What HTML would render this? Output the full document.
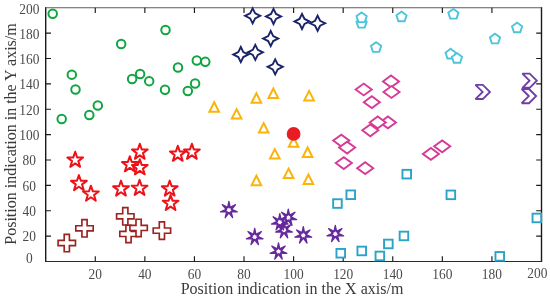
<!DOCTYPE html><html><head><meta charset="utf-8"><title>Position scatter</title>
<style>html,body{margin:0;padding:0;background:#fff}svg{display:block}text{font-family:"Liberation Serif","DejaVu Serif",serif}</style></head><body>
<svg width="550" height="299" viewBox="0 0 550 299">
<rect width="550" height="299" fill="#fff"/>
<g stroke="#1a1a1a" stroke-width="1.4" fill="none">
<path d="M45.7 7.10V262.05M541.5 7.10V262.05"/>
<path d="M45.10 261.5H542.10" stroke-width="1.1" stroke="#2c2c2c"/>
<path d="M45.10 7.75H542.10" stroke-width="1.2" stroke="#5c5c5c"/>
<path d="M95.28 261.5v-5.3M95.28 7.7v5.3M45.7 236.12h5.3M541.5 236.12h-5.3M144.86 261.5v-5.3M144.86 7.7v5.3M45.7 210.74h5.3M541.5 210.74h-5.3M194.44 261.5v-5.3M194.44 7.7v5.3M45.7 185.36h5.3M541.5 185.36h-5.3M244.02 261.5v-5.3M244.02 7.7v5.3M45.7 159.98h5.3M541.5 159.98h-5.3M293.60 261.5v-5.3M293.60 7.7v5.3M45.7 134.60h5.3M541.5 134.60h-5.3M343.18 261.5v-5.3M343.18 7.7v5.3M45.7 109.22h5.3M541.5 109.22h-5.3M392.76 261.5v-5.3M392.76 7.7v5.3M45.7 83.84h5.3M541.5 83.84h-5.3M442.34 261.5v-5.3M442.34 7.7v5.3M45.7 58.46h5.3M541.5 58.46h-5.3M491.92 261.5v-5.3M491.92 7.7v5.3M45.7 33.08h5.3M541.5 33.08h-5.3" stroke-width="1.15"/>
</g>
<g fill="#fff" stroke="#10a540" stroke-width="2.0">
<circle cx="52.7" cy="13.80" r="4.25"/>
<circle cx="121.2" cy="44.05" r="4.25"/>
<circle cx="165.5" cy="29.95" r="4.25"/>
<circle cx="71.8" cy="74.65" r="4.25"/>
<circle cx="75.5" cy="89.45" r="4.25"/>
<circle cx="61.7" cy="119.05" r="4.25"/>
<circle cx="89.3" cy="115.05" r="4.25"/>
<circle cx="97.8" cy="105.55" r="4.25"/>
<circle cx="132.1" cy="78.95" r="4.25"/>
<circle cx="140.1" cy="74.05" r="4.25"/>
<circle cx="149.2" cy="81.15" r="4.25"/>
<circle cx="165.0" cy="89.75" r="4.25"/>
<circle cx="178.0" cy="67.45" r="4.25"/>
<circle cx="187.8" cy="90.95" r="4.25"/>
<circle cx="195.1" cy="83.45" r="4.25"/>
<circle cx="196.8" cy="60.45" r="4.25"/>
<circle cx="205.3" cy="61.85" r="4.25"/>
</g>
<g fill="#fff" stroke="#1b2468" stroke-width="1.9" stroke-linejoin="miter" stroke-miterlimit="10">
<path d="M252.65 8.30 L255.15 13.35 L260.20 15.85 L255.15 18.35 L252.65 23.40 L250.15 18.35 L245.10 15.85 L250.15 13.35Z"/>
<path d="M273.50 8.90 L276.00 13.95 L281.05 16.45 L276.00 18.95 L273.50 24.00 L271.00 18.95 L265.95 16.45 L271.00 13.95Z"/>
<path d="M302.00 13.90 L304.50 18.95 L309.55 21.45 L304.50 23.95 L302.00 29.00 L299.50 23.95 L294.45 21.45 L299.50 18.95Z"/>
<path d="M317.60 15.70 L320.10 20.75 L325.15 23.25 L320.10 25.75 L317.60 30.80 L315.10 25.75 L310.05 23.25 L315.10 20.75Z"/>
<path d="M270.70 31.00 L273.20 36.05 L278.25 38.55 L273.20 41.05 L270.70 46.10 L268.20 41.05 L263.15 38.55 L268.20 36.05Z"/>
<path d="M255.30 44.80 L257.80 49.85 L262.85 52.35 L257.80 54.85 L255.30 59.90 L252.80 54.85 L247.75 52.35 L252.80 49.85Z"/>
<path d="M240.80 47.00 L243.30 52.05 L248.35 54.55 L243.30 57.05 L240.80 62.10 L238.30 57.05 L233.25 54.55 L238.30 52.05Z"/>
<path d="M275.20 59.30 L277.70 64.35 L282.75 66.85 L277.70 69.35 L275.20 74.40 L272.70 69.35 L267.65 66.85 L272.70 64.35Z"/>
</g>
<g fill="#fff" stroke="#fab40a" stroke-width="2.0" stroke-linejoin="miter">
<path d="M214.20 102.20 L219.00 111.70 L209.40 111.70Z"/>
<path d="M236.60 109.10 L241.40 118.60 L231.80 118.60Z"/>
<path d="M256.40 93.30 L261.20 102.80 L251.60 102.80Z"/>
<path d="M273.30 88.50 L278.10 98.00 L268.50 98.00Z"/>
<path d="M309.10 90.90 L313.90 100.40 L304.30 100.40Z"/>
<path d="M263.70 123.10 L268.50 132.60 L258.90 132.60Z"/>
<path d="M293.60 137.20 L298.40 146.70 L288.80 146.70Z"/>
<path d="M274.80 149.10 L279.60 158.60 L270.00 158.60Z"/>
<path d="M307.60 147.50 L312.40 157.00 L302.80 157.00Z"/>
<path d="M288.60 168.60 L293.40 178.10 L283.80 178.10Z"/>
<path d="M308.40 174.50 L313.20 184.00 L303.60 184.00Z"/>
<path d="M256.40 175.70 L261.20 185.20 L251.60 185.20Z"/>
</g>
<circle cx="293.6" cy="133.9" r="6.9" fill="#e91c24"/>
<g fill="#fff" stroke="#ec1218" stroke-width="2.0" stroke-linejoin="round">
<path d="M75.20 151.80 L77.14 157.43 L83.09 157.54 L78.34 161.12 L80.08 166.81 L75.20 163.40 L70.32 166.81 L72.06 161.12 L67.31 157.54 L73.26 157.43Z"/>
<path d="M139.80 143.80 L141.74 149.43 L147.69 149.54 L142.94 153.12 L144.68 158.81 L139.80 155.40 L134.92 158.81 L136.66 153.12 L131.91 149.54 L137.86 149.43Z"/>
<path d="M129.80 156.30 L131.74 161.93 L137.69 162.04 L132.94 165.62 L134.68 171.31 L129.80 167.90 L124.92 171.31 L126.66 165.62 L121.91 162.04 L127.86 161.93Z"/>
<path d="M139.80 159.30 L141.74 164.93 L147.69 165.04 L142.94 168.62 L144.68 174.31 L139.80 170.90 L134.92 174.31 L136.66 168.62 L131.91 165.04 L137.86 164.93Z"/>
<path d="M177.80 145.80 L179.74 151.43 L185.69 151.54 L180.94 155.12 L182.68 160.81 L177.80 157.40 L172.92 160.81 L174.66 155.12 L169.91 151.54 L175.86 151.43Z"/>
<path d="M191.90 143.80 L193.84 149.43 L199.79 149.54 L195.04 153.12 L196.78 158.81 L191.90 155.40 L187.02 158.81 L188.76 153.12 L184.01 149.54 L189.96 149.43Z"/>
<path d="M78.90 175.10 L80.84 180.73 L86.79 180.84 L82.04 184.42 L83.78 190.11 L78.90 186.70 L74.02 190.11 L75.76 184.42 L71.01 180.84 L76.96 180.73Z"/>
<path d="M90.90 185.70 L92.84 191.33 L98.79 191.44 L94.04 195.02 L95.78 200.71 L90.90 197.30 L86.02 200.71 L87.76 195.02 L83.01 191.44 L88.96 191.33Z"/>
<path d="M121.00 180.60 L122.94 186.23 L128.89 186.34 L124.14 189.92 L125.88 195.61 L121.00 192.20 L116.12 195.61 L117.86 189.92 L113.11 186.34 L119.06 186.23Z"/>
<path d="M139.60 179.90 L141.54 185.53 L147.49 185.64 L142.74 189.22 L144.48 194.91 L139.60 191.50 L134.72 194.91 L136.46 189.22 L131.71 185.64 L137.66 185.53Z"/>
<path d="M169.70 180.60 L171.64 186.23 L177.59 186.34 L172.84 189.92 L174.58 195.61 L169.70 192.20 L164.82 195.61 L166.56 189.92 L161.81 186.34 L167.76 186.23Z"/>
<path d="M170.60 195.00 L172.54 200.63 L178.49 200.74 L173.74 204.32 L175.48 210.01 L170.60 206.60 L165.72 210.01 L167.46 204.32 L162.71 200.74 L168.66 200.63Z"/>
</g>
<g fill="#fff" stroke="#9c2222" stroke-width="1.65" stroke-linejoin="miter">
<path d="M64.20 234.30 L69.40 234.30 L69.40 240.40 L75.50 240.40 L75.50 245.60 L69.40 245.60 L69.40 251.70 L64.20 251.70 L64.20 245.60 L58.10 245.60 L58.10 240.40 L64.20 240.40Z"/>
<path d="M81.90 219.60 L87.10 219.60 L87.10 225.70 L93.20 225.70 L93.20 230.90 L87.10 230.90 L87.10 237.00 L81.90 237.00 L81.90 230.90 L75.80 230.90 L75.80 225.70 L81.90 225.70Z"/>
<path d="M122.70 207.60 L127.90 207.60 L127.90 213.70 L134.00 213.70 L134.00 218.90 L127.90 218.90 L127.90 225.00 L122.70 225.00 L122.70 218.90 L116.60 218.90 L116.60 213.70 L122.70 213.70Z"/>
<path d="M125.90 225.20 L131.10 225.20 L131.10 231.30 L137.20 231.30 L137.20 236.50 L131.10 236.50 L131.10 242.60 L125.90 242.60 L125.90 236.50 L119.80 236.50 L119.80 231.30 L125.90 231.30Z"/>
<path d="M136.00 219.20 L141.20 219.20 L141.20 225.30 L147.30 225.30 L147.30 230.50 L141.20 230.50 L141.20 236.60 L136.00 236.60 L136.00 230.50 L129.90 230.50 L129.90 225.30 L136.00 225.30Z"/>
<path d="M159.30 221.90 L164.50 221.90 L164.50 228.00 L170.60 228.00 L170.60 233.20 L164.50 233.20 L164.50 239.30 L159.30 239.30 L159.30 233.20 L153.20 233.20 L153.20 228.00 L159.30 228.00Z"/>
</g>
<g fill="#65299d" fill-rule="evenodd" stroke="#65299d" stroke-width="1.3" stroke-linejoin="round">
<path d="M228.90 201.45 L230.16 207.39 L235.58 204.67 L231.73 209.35 L237.24 211.90 L231.17 211.81 L232.61 217.70 L228.90 212.90 L225.19 217.70 L226.63 211.81 L220.56 211.90 L226.07 209.35 L222.22 204.67 L227.64 207.39ZM228.90 206.10 L229.94 207.84 L231.95 207.57 L231.24 209.47 L232.70 210.87 L230.78 211.50 L230.59 213.51 L228.90 212.40 L227.21 213.51 L227.02 211.50 L225.10 210.87 L226.56 209.47 L225.85 207.57 L227.86 207.84Z"/>
<path d="M254.70 228.35 L255.96 234.29 L261.38 231.57 L257.53 236.25 L263.04 238.80 L256.97 238.71 L258.41 244.60 L254.70 239.80 L250.99 244.60 L252.43 238.71 L246.36 238.80 L251.87 236.25 L248.02 231.57 L253.44 234.29ZM254.70 233.00 L255.74 234.74 L257.75 234.47 L257.04 236.37 L258.50 237.77 L256.58 238.40 L256.39 240.41 L254.70 239.30 L253.01 240.41 L252.82 238.40 L250.90 237.77 L252.36 236.37 L251.65 234.47 L253.66 234.74Z"/>
<path d="M279.80 213.55 L281.06 219.49 L286.48 216.77 L282.63 221.45 L288.14 224.00 L282.07 223.91 L283.51 229.80 L279.80 225.00 L276.09 229.80 L277.53 223.91 L271.46 224.00 L276.97 221.45 L273.12 216.77 L278.54 219.49ZM279.80 218.20 L280.84 219.94 L282.85 219.67 L282.14 221.57 L283.60 222.97 L281.68 223.60 L281.49 225.61 L279.80 224.50 L278.11 225.61 L277.92 223.60 L276.00 222.97 L277.46 221.57 L276.75 219.67 L278.76 219.94Z"/>
<path d="M288.30 209.05 L289.56 214.99 L294.98 212.27 L291.13 216.95 L296.64 219.50 L290.57 219.41 L292.01 225.30 L288.30 220.50 L284.59 225.30 L286.03 219.41 L279.96 219.50 L285.47 216.95 L281.62 212.27 L287.04 214.99ZM288.30 213.70 L289.34 215.44 L291.35 215.17 L290.64 217.07 L292.10 218.47 L290.18 219.10 L289.99 221.11 L288.30 220.00 L286.61 221.11 L286.42 219.10 L284.50 218.47 L285.96 217.07 L285.25 215.17 L287.26 215.44Z"/>
<path d="M284.00 221.55 L285.26 227.49 L290.68 224.77 L286.83 229.45 L292.34 232.00 L286.27 231.91 L287.71 237.80 L284.00 233.00 L280.29 237.80 L281.73 231.91 L275.66 232.00 L281.17 229.45 L277.32 224.77 L282.74 227.49ZM284.00 226.20 L285.04 227.94 L287.05 227.67 L286.34 229.57 L287.80 230.97 L285.88 231.60 L285.69 233.61 L284.00 232.50 L282.31 233.61 L282.12 231.60 L280.20 230.97 L281.66 229.57 L280.95 227.67 L282.96 227.94Z"/>
<path d="M303.30 226.75 L304.56 232.69 L309.98 229.97 L306.13 234.65 L311.64 237.20 L305.57 237.11 L307.01 243.00 L303.30 238.20 L299.59 243.00 L301.03 237.11 L294.96 237.20 L300.47 234.65 L296.62 229.97 L302.04 232.69ZM303.30 231.40 L304.34 233.14 L306.35 232.87 L305.64 234.77 L307.10 236.17 L305.18 236.80 L304.99 238.81 L303.30 237.70 L301.61 238.81 L301.42 236.80 L299.50 236.17 L300.96 234.77 L300.25 232.87 L302.26 233.14Z"/>
<path d="M278.50 242.85 L279.76 248.79 L285.18 246.07 L281.33 250.75 L286.84 253.30 L280.77 253.21 L282.21 259.10 L278.50 254.30 L274.79 259.10 L276.23 253.21 L270.16 253.30 L275.67 250.75 L271.82 246.07 L277.24 248.79ZM278.50 247.50 L279.54 249.24 L281.55 248.97 L280.84 250.87 L282.30 252.27 L280.38 252.90 L280.19 254.91 L278.50 253.80 L276.81 254.91 L276.62 252.90 L274.70 252.27 L276.16 250.87 L275.45 248.97 L277.46 249.24Z"/>
<path d="M335.30 225.35 L336.56 231.29 L341.98 228.57 L338.13 233.25 L343.64 235.80 L337.57 235.71 L339.01 241.60 L335.30 236.80 L331.59 241.60 L333.03 235.71 L326.96 235.80 L332.47 233.25 L328.62 228.57 L334.04 231.29ZM335.30 230.00 L336.34 231.74 L338.35 231.47 L337.64 233.37 L339.10 234.77 L337.18 235.40 L336.99 237.41 L335.30 236.30 L333.61 237.41 L333.42 235.40 L331.50 234.77 L332.96 233.37 L332.25 231.47 L334.26 231.74Z"/>
</g>
<g fill="#fff" stroke="#2ba3c9" stroke-width="1.9">
<rect x="333.15" y="199.25" width="8.6" height="8.6"/>
<rect x="346.45" y="190.45" width="8.6" height="8.6"/>
<rect x="446.55" y="190.55" width="8.6" height="8.6"/>
<rect x="336.45" y="248.95" width="8.6" height="8.6"/>
<rect x="357.45" y="246.65" width="8.6" height="8.6"/>
<rect x="375.55" y="251.65" width="8.6" height="8.6"/>
<rect x="384.05" y="239.65" width="8.6" height="8.6"/>
<rect x="399.65" y="231.65" width="8.6" height="8.6"/>
<rect x="402.45" y="169.85" width="8.6" height="8.6"/>
<rect x="532.55" y="213.65" width="8.6" height="8.6"/>
<rect x="495.45" y="252.05" width="8.6" height="8.6"/>
</g>
<g fill="#fff" stroke="#d63a95" stroke-width="1.9" stroke-linejoin="miter">
<path d="M333.25 140.60 L341.30 134.70 L349.35 140.60 L341.30 146.50Z"/>
<path d="M339.05 147.60 L347.10 141.70 L355.15 147.60 L347.10 153.50Z"/>
<path d="M335.75 163.10 L343.80 157.20 L351.85 163.10 L343.80 169.00Z"/>
<path d="M357.15 168.20 L365.20 162.30 L373.25 168.20 L365.20 174.10Z"/>
<path d="M362.25 130.30 L370.30 124.40 L378.35 130.30 L370.30 136.20Z"/>
<path d="M422.85 153.90 L430.90 148.00 L438.95 153.90 L430.90 159.80Z"/>
<path d="M434.15 146.30 L442.20 140.40 L450.25 146.30 L442.20 152.20Z"/>
<path d="M355.65 89.50 L363.70 83.60 L371.75 89.50 L363.70 95.40Z"/>
<path d="M382.95 81.40 L391.00 75.50 L399.05 81.40 L391.00 87.30Z"/>
<path d="M383.45 92.00 L391.50 86.10 L399.55 92.00 L391.50 97.90Z"/>
<path d="M363.75 102.20 L371.80 96.30 L379.85 102.20 L371.80 108.10Z"/>
<path d="M379.85 122.40 L387.90 116.50 L395.95 122.40 L387.90 128.30Z"/>
<path d="M369.65 122.40 L377.70 116.50 L385.75 122.40 L377.70 128.30Z"/>
</g>
<g fill="#fff" stroke="#4cc4dc" stroke-width="1.9" stroke-linejoin="miter">
<path d="M361.60 17.90 L364.14 19.75 L366.69 21.60 L365.72 24.59 L364.74 27.58 L361.60 27.58 L358.46 27.58 L357.48 24.59 L356.51 21.60 L359.06 19.75Z"/>
<path d="M361.60 12.40 L364.14 14.25 L366.69 16.10 L365.72 19.09 L364.74 22.08 L361.60 22.08 L358.46 22.08 L357.48 19.09 L356.51 16.10 L359.06 14.25Z"/>
<path d="M401.50 11.60 L404.04 13.45 L406.59 15.30 L405.62 18.29 L404.64 21.28 L401.50 21.28 L398.36 21.28 L397.38 18.29 L396.41 15.30 L398.96 13.45Z"/>
<path d="M453.40 8.90 L455.94 10.75 L458.49 12.60 L457.52 15.59 L456.54 18.58 L453.40 18.58 L450.26 18.58 L449.28 15.59 L448.31 12.60 L450.86 10.75Z"/>
<path d="M376.10 42.20 L378.64 44.05 L381.19 45.90 L380.22 48.89 L379.24 51.88 L376.10 51.88 L372.96 51.88 L371.98 48.89 L371.01 45.90 L373.56 44.05Z"/>
<path d="M450.60 48.80 L453.14 50.65 L455.69 52.50 L454.72 55.49 L453.74 58.48 L450.60 58.48 L447.46 58.48 L446.48 55.49 L445.51 52.50 L448.06 50.65Z"/>
<path d="M457.00 53.10 L459.54 54.95 L462.09 56.80 L461.12 59.79 L460.14 62.78 L457.00 62.78 L453.86 62.78 L452.88 59.79 L451.91 56.80 L454.46 54.95Z"/>
<path d="M517.10 22.60 L519.64 24.45 L522.19 26.30 L521.22 29.29 L520.24 32.28 L517.10 32.28 L513.96 32.28 L512.98 29.29 L512.01 26.30 L514.56 24.45Z"/>
<path d="M495.00 33.70 L497.54 35.55 L500.09 37.40 L499.12 40.39 L498.14 43.38 L495.00 43.38 L491.86 43.38 L490.88 40.39 L489.91 37.40 L492.46 35.55Z"/>
</g>
<g fill="#fff" stroke="#6e3fa6" stroke-width="1.9" stroke-linejoin="miter" stroke-miterlimit="2">
<path d="M475.50 84.85 L482.80 84.85 L489.90 91.95 L482.80 99.05 L475.50 99.05 L482.60 91.95Z"/>
<path d="M522.40 73.60 L529.70 73.60 L536.80 80.70 L529.70 87.80 L522.40 87.80 L529.50 80.70Z"/>
<path d="M521.70 89.00 L529.00 89.00 L536.10 96.10 L529.00 103.20 L521.70 103.20 L528.80 96.10Z"/>
</g>
<g font-size="15.5" fill="#4a4a4a" text-anchor="middle">
<text transform="translate(29.3 263.20) scale(0.865 1)">0</text>
<text transform="translate(29.3 241.42) scale(0.865 1)">20</text>
<text transform="translate(29.3 216.04) scale(0.865 1)">40</text>
<text transform="translate(29.3 190.66) scale(0.865 1)">60</text>
<text transform="translate(29.3 165.28) scale(0.865 1)">80</text>
<text transform="translate(29.3 139.90) scale(0.865 1)">100</text>
<text transform="translate(29.3 114.52) scale(0.865 1)">120</text>
<text transform="translate(29.3 89.14) scale(0.865 1)">140</text>
<text transform="translate(29.3 63.76) scale(0.865 1)">160</text>
<text transform="translate(29.3 38.98) scale(0.865 1)">180</text>
<text transform="translate(29.3 13.80) scale(0.865 1)">200</text>
<text transform="translate(95.28 278.7) scale(0.865 1)">20</text>
<text transform="translate(144.86 278.7) scale(0.865 1)">40</text>
<text transform="translate(194.44 278.7) scale(0.865 1)">60</text>
<text transform="translate(244.02 278.7) scale(0.865 1)">80</text>
<text transform="translate(293.60 278.7) scale(0.865 1)">100</text>
<text transform="translate(343.18 278.7) scale(0.865 1)">120</text>
<text transform="translate(392.76 278.7) scale(0.865 1)">140</text>
<text transform="translate(442.34 278.7) scale(0.865 1)">160</text>
<text transform="translate(491.92 278.7) scale(0.865 1)">180</text>
<text transform="translate(537.30 277.6) scale(0.865 1)">200</text>
</g>
<g font-size="16" fill="#3a3a3a">
<text x="292" y="293.7" text-anchor="middle">Position indication in the X axis/m</text>
<text transform="translate(16.3 134.0) rotate(-90)" text-anchor="middle">Position indication in the Y axis/m</text>
</g>
</svg></body></html>
